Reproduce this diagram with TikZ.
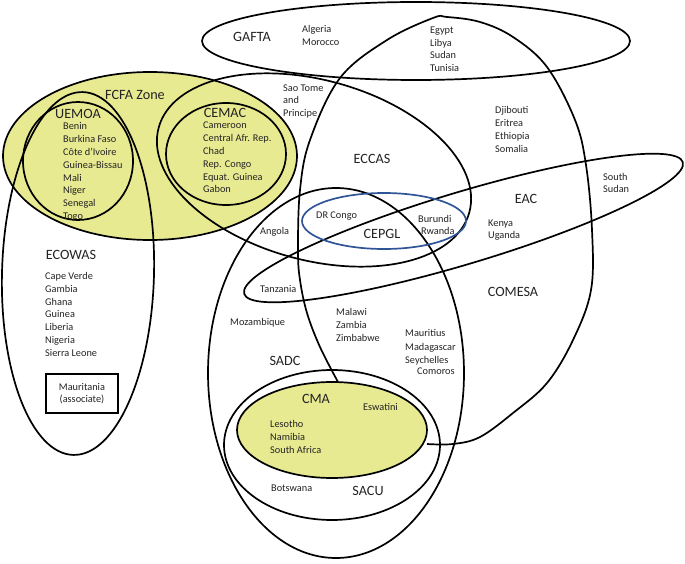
\documentclass[tikz,border=0pt]{standalone}
\usepackage{fontspec}
\setmainfont{Carlito}
\definecolor{fcfa}{RGB}{232,234,146}
\definecolor{cepglblue}{RGB}{47,85,151}
\definecolor{txt}{RGB}{35,35,35}
\begin{document}
\begin{tikzpicture}[x=1pt,y=1pt,
  ring/.style={draw=black, line width=1.7pt},
  bluering/.style={draw=cepglblue, line width=1.7pt},
  yfill/.style={fill=fcfa},
  big/.style={font=\fontsize{14.2}{17}\selectfont, inner sep=0pt, text=txt},
  small/.style={font=\fontsize{10.3}{12.8}\selectfont, align=left, anchor=west, inner sep=0pt, text=txt},
  boxed/.style={draw=black, line width=1.3pt, font=\fontsize{10.3}{12.4}\selectfont, align=center, text=txt, minimum width=72pt, minimum height=39pt, inner sep=0pt}
]
\useasboundingbox (0,0) rectangle (685,-564);
% fills
\fill[yfill] (150,-156) ellipse [x radius=147, y radius=84];
\fill[yfill] (332,-430) ellipse [x radius=95, y radius=48];
% outlines
\draw[ring] (150,-156) ellipse [x radius=147, y radius=84]; % FCFA
\draw[ring] (78,-161) ellipse [x radius=55, y radius=59]; % UEMOA
\draw[ring] (226,-154) ellipse [x radius=60, y radius=51]; % CEMAC
\draw[ring, rotate around={-1.5:(78,-273.5)}] (78,-273.5) ellipse [x radius=76, y radius=181.5]; % ECOWAS
\draw[ring] (416,-41) ellipse [x radius=214, y radius=39]; % GAFTA
\draw[ring, rotate around={-15.3:(314,-170)}] (314,-170) ellipse [x radius=161, y radius=90]; % ECCAS
\draw[ring, rotate around={16.7:(463.5,-228)}] (463.5,-228) ellipse [x radius=229, y radius=36]; % EAC
\draw[ring] (336,-373) ellipse [x radius=128, y radius=185]; % SADC
\draw[ring] (332,-445) ellipse [x radius=108, y radius=75]; % SACU
\draw[ring] (332,-430) ellipse [x radius=95, y radius=48]; % CMA
\draw[bluering] (384,-221) ellipse [x radius=82, y radius=28]; % CEPGL
% COMESA
\draw[ring] plot[smooth, tension=0.6] coordinates {
  (338,-382) (320,-347) (307,-313) (300,-280) (298,-250) (300,-190) (310,-140)
  (340,-78) (387,-40) (433,-18) (447,-17) (480,-22) (513,-37) (547,-67)
  (575,-120) (586,-165) (592,-230) (591,-290) (573,-340) (547,-383)
  (513,-413) (480,-437) (453,-444) (427,-444)};
% labels
\node[big] (lfcfa) at (135,-95) {FCFA Zone};
\node[big, text depth=0pt, anchor=base] (luemoa) at (78,-118.5) {UEMOA};
\node[small] (cuemoa) at (63,-172) {Benin\\Burkina Faso\\Côte d’Ivoire\\Guinea-Bissau\\Mali\\Niger\\Senegal\\Togo};
\node[big] (lcemac) at (225,-113) {CEMAC};
\node[small] (ccemac) at (203,-157.5) {Cameroon\\Central Afr. Rep.\\Chad\\Rep. Congo\\Equat. Guinea\\Gabon};
\node[big] (lecowas) at (71,-255) {ECOWAS};
\node[small] (cecowas) at (45,-314.3) {Cape Verde\\Gambia\\Ghana\\Guinea\\Liberia\\Nigeria\\Sierra Leone};
\node[boxed] (maur) at (82,-393.5) {Mauritania\\(associate)};
\node[big] (lgafta) at (252,-37) {GAFTA};
\node[small] (cgafta) at (302,-35.5) {Algeria\\Morocco};
\node[small] (cnorth) at (430,-49.25) {Egypt\\Libya\\Sudan\\Tunisia};
\node[small] (csao) at (283,-101.3) {Sao Tome\\and\\Principe};
\node[small] (chorn) at (495,-129.5) {Djibouti\\Eritrea\\Ethiopia\\Somalia};
\node[big] (leccas) at (372,-159) {ECCAS};
\node[small] (cssudan) at (603,-183) {South\\Sudan};
\node[big] (leac) at (526,-199) {EAC};
\node[small] (cdrc) at (316,-216) {DR Congo};
\node[small] (cbur) at (418,-225) {Burundi\\\hspace*{3pt}Rwanda};
\node[big] (lcepgl) at (382,-234) {CEPGL};
\node[small] (cang) at (260,-232) {Angola};
\node[small] (ckenya) at (488,-230) {Kenya\\Uganda};
\node[small] (ctanz) at (260,-289) {Tanzania};
\node[big] (lcomesa) at (513,-292) {COMESA};
\node[small] (cmoz) at (230,-323) {Mozambique};
\node[small] (cmal) at (336,-325) {Malawi\\Zambia\\Zimbabwe};
\node[small, font=\fontsize{10.3}{13.4}\selectfont] (cmaur) at (405,-347.5) {Mauritius\\Madagascar\\Seychelles};
\node[small] (ccom) at (417,-371) {Comoros};
\node[big] (lsadc) at (285,-361) {SADC};
\node[big] (lcma) at (316,-399) {CMA};
\node[small] (cesw) at (363,-407) {Eswatini};
\node[small] (ccma) at (270,-436.75) {Lesotho\\Namibia\\South Africa};
\node[small] (cbots) at (271,-488) {Botswana};
\node[big] (lsacu) at (368,-491) {SACU};
\end{tikzpicture}
\end{document}
